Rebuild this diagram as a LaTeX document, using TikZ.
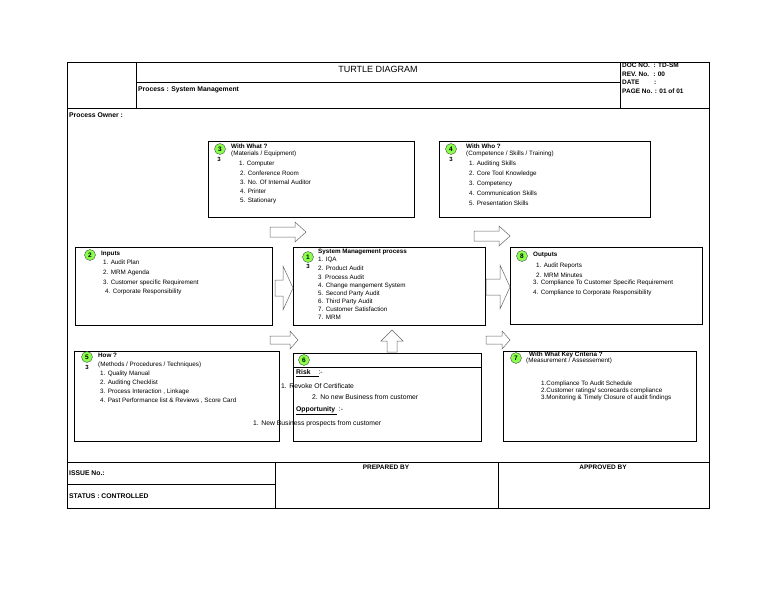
\documentclass[tikz,border=0pt]{standalone}
\usepackage{fontspec}
\setmainfont{Liberation Sans}
\newcommand\blockarrow[6]{% x y length shafthalf headhalf headlen  (right pointing)
  \draw[draw=black!60,fill=white,line width=0.5pt]
    (#1,#2-#4) -- (#1+#3-#6,#2-#4) -- (#1+#3-#6,#2-#5) -- (#1+#3,#2) -- (#1+#3-#6,#2+#5) -- (#1+#3-#6,#2+#4) -- (#1,#2+#4) -- cycle;}
\begin{document}
\begin{tikzpicture}[x=1pt,y=-1pt,
  frame/.style={draw,line width=0.8pt},
  box/.style={draw,line width=1pt},
  txt/.style={anchor=north west,inner sep=0pt,align=left,font=\fontsize{6.3}{10}\selectfont},
  lbl/.style={anchor=west,inner sep=0pt,font=\fontsize{6.8}{8}\selectfont},
  num/.style={circle,draw=black!70,fill=green!55!lime!70,minimum size=11pt,inner sep=0pt,font=\fontsize{6.5}{7}\selectfont\bfseries}]
\useasboundingbox (0,0) rectangle (768,594);
% outer frame
\draw[frame] (67,62) rectangle (709,508);
\draw[frame] (67,108) -- (709,108);
\draw[frame] (136,62) -- (136,108);
\draw[frame] (620,62) -- (620,108);
\draw[frame] (136,82) -- (620,82);
\node[font=\fontsize{9}{10}\selectfont] (title) at (378,69) {TURTLE DIAGRAM};
\node[lbl] (proc) at (138,90) {\textbf{Process : System Management}};
\node[txt,font=\fontsize{6.5}{8.5}\selectfont\bfseries] (doc) at (622,63) {DOC NO. \ : TD-SM\\REV. No. \ : 00\\DATE \qquad :\\PAGE No. : 01 of 01};
\node[lbl] (owner) at (69,115) {\textbf{Process Owner :}};
% bottom table
\draw[frame] (67,462) -- (709,462);
\draw[frame] (67,484) -- (275,484);
\draw[frame] (275,462) -- (275,508);
\draw[frame] (498,462) -- (498,508);
\node[lbl] (issue) at (69,473) {\textbf{ISSUE No.:}};
\node[lbl] (status) at (69,496) {\textbf{STATUS : CONTROLLED}};
\node[font=\fontsize{6.5}{8}\selectfont\bfseries] (prep) at (386,467) {PREPARED BY};
\node[font=\fontsize{6.5}{8}\selectfont\bfseries] (appr) at (603,467) {APPROVED BY};
% boxes
\draw[box] (208,141) rectangle (414,217);
\node[num] (n3) at (220,149) {3};
\node[txt] (ww) at (231,144) {\textbf{With What ?}\\[-3pt](Materials / Equipment)\\\hspace{8pt}1. Computer\\\hspace{9pt}2. Conference Room\\[-1pt]\hspace{9pt}3. No. Of Internal Auditor\\[-1pt]\hspace{9pt}4. Printer\\[-1pt]\hspace{9pt}5. Stationary};
\draw[box] (439,141) rectangle (650,217);
\node[num] (n4) at (451,149) {4};
\node[txt] (wwho) at (466,144) {\textbf{With Who ?}\\[-3pt](Competence / Skills / Training)\\\hspace{3pt}1. Auditing Skills\\\hspace{3pt}2. Core Tool Knowledge\\\hspace{3pt}3. Competency\\\hspace{3pt}4. Communication Skills\\\hspace{3pt}5. Presentation Skills};
\draw[box] (75,247) rectangle (272,325);
\node[num] (n2) at (90,255) {2};
\node[txt] (inp) at (101,251) {\textbf{Inputs}\\[-1pt]\hspace{2pt}1. Audit Plan\\\hspace{2pt}2. MRM Agenda\\\hspace{2pt}3. Customer specific Requirement\\[-1pt]\hspace{4pt}4. Corporate Responsibility};
\draw[box] (293,247) rectangle (485,325);
\node[num] (n1) at (308,257) {1};
\node[txt] (pr) at (318,249) {\textbf{System Management process}\\[-2pt]1. IQA\\[-1pt]2. Product Audit\\[-1pt]3 \ Process Audit\\[-2pt]4. Change mangement System\\[-2pt]5. Second Party Audit\\[-2pt]6. Third Party Audit\\[-2pt]7. Customer Satisfaction\\[-2pt]7. MRM};
\draw[box] (510,247) rectangle (702,324);
\node[num] (n8) at (522,256) {8};
\node[txt] (outp) at (533,252) {\textbf{Outputs}\\[1pt]\hspace{3pt}1. Audit Reports\\\hspace{3pt}2. MRM Minutes\\[-3pt]3. Compliance To Customer Specific Requirement\\4. Compliance to Corporate Responsibility};
\draw[box] (74,351) rectangle (279,441);
\node[num] (n5) at (87,357) {5};
\node[txt] (how) at (98,353) {\textbf{How ?}\\[-1pt](Methods / Procedures / Techniques)\\[-1pt]\hspace{2pt}1. Quality Manual\\[-1pt]\hspace{2pt}2. Auditing Checklist\\[-1pt]\hspace{2pt}3. Process Interaction , Linkage\\[-1pt]\hspace{2pt}4. Past Performance list \& Reviews , Score Card};
\draw[box] (293,353) rectangle (481,441);
\draw[box] (293,367) -- (481,367);
\node[num] (n6) at (304,360) {6};
\node[lbl] (risk) at (296,373) {\underline{\textbf{Risk}\hspace{8pt}}:-};
\node[lbl] (r1) at (281,386) {1. Revoke Of Certificate};
\node[lbl] (r2) at (312,397) {2. No new Business from customer};
\node[lbl] (opp) at (296,411) {\underline{\textbf{Opportunity}\hspace{2pt}} :-};
\node[lbl] (o1) at (253,424) {1. New Business prospects from customer};
\draw[box] (503,351) rectangle (696,441);
\node[num] (n7) at (516,358) {7};
\node[txt] (crit) at (526,352) {\hspace{3pt}\textbf{With What Key Criteria ?}\\[-4pt](Measurement / Assessement)};
\node[txt] (crit2) at (541,381) {1.Compliance To Audit Schedule\\[-3pt]2.Customer ratings/ scorecards compliance\\[-3pt]3.Monitoring \& Timely Closure of audit findings};
% small "3" marks
\node[font=\fontsize{6}{6}\selectfont\bfseries] (m3a) at (219,159) {3};
\node[font=\fontsize{6}{6}\selectfont\bfseries] (m4a) at (451,159) {3};
\node[font=\fontsize{6}{6}\selectfont\bfseries] (m1a) at (308,266) {3};
\node[font=\fontsize{6}{6}\selectfont\bfseries] (m5a) at (87,367) {3};
% block arrows
\blockarrow{270}{232}{36}{5}{10}{11}
\blockarrow{474}{236}{36}{5}{10}{11}
\blockarrow{275}{288}{18}{8}{22}{10}
\blockarrow{486}{287}{24}{8}{22}{10}
\blockarrow{270}{340}{28}{4}{9}{8}
\blockarrow{486}{340}{24}{4}{9}{8}
\draw[draw=black!60,fill=white,line width=0.5pt]
  (387,352) -- (387,341) -- (381,341) -- (392,330) -- (403,341) -- (397,341) -- (397,352) -- cycle;
\end{tikzpicture}
\end{document}
